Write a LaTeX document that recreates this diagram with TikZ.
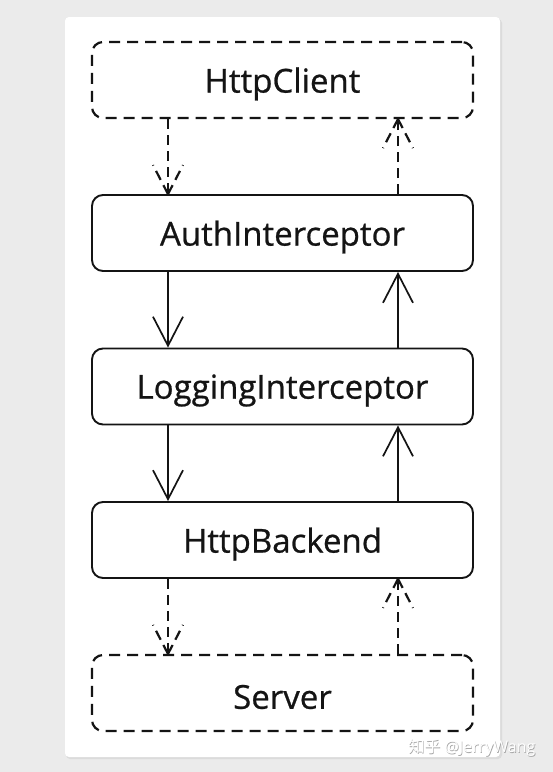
\documentclass[tikz,border=0pt]{standalone}
\usepackage{fontspec}
\setmainfont{Open Sans}
\newfontfamily\boxfont{Open Sans}[FakeBold=0.7]
\newfontfamily\cjkfont{Noto Sans CJK SC}
\usetikzlibrary{arrows.meta,calc}
\definecolor{bggray}{HTML}{EBEBEB}
\definecolor{ink}{HTML}{141414}
\newcommand{\lowtext}[1]{\raisebox{-4pt}[\height][\depth]{#1}}
\tikzset{
  boxbase/.style={draw=ink, line width=1.9pt, rounded corners=11pt,
    minimum width=381pt, minimum height=76pt, inner sep=0pt,
    font=\boxfont\fontsize{33}{38}\selectfont, text=ink},
  solidbox/.style={boxbase},
  dashbox/.style={boxbase, line width=2.2pt, dash pattern=on 11pt off 7pt},
  sline/.style={draw=ink, line width=1.7pt},
  dline/.style={draw=ink, line width=2.2pt, dash pattern=on 10pt off 6pt},
  sarrow/.style={sline, -{Straight Barb[length=29pt,width=30pt,line width=1.7pt]}},
}
\begin{document}
\begin{tikzpicture}[x=1pt,y=-1pt]
\useasboundingbox (0,0) rectangle (553,772);
\fill[bggray] (0,0) rectangle (553,772);
\fill[black!14, rounded corners=4pt] (66,19) rectangle (502,759);
\fill[white, rounded corners=4pt] (65,17) rectangle (500,757);

\node[dashbox]  (client)  at (282.5,80)   {\lowtext{HttpClient}};
\node[solidbox] (auth)    at (282.5,233)  {\lowtext{AuthInterceptor}};
\node[solidbox] (logging) at (282.5,386.5){\lowtext{LoggingInterceptor}};
\node[solidbox] (backend) at (282.5,540)  {\lowtext{HttpBackend}};
\node[dashbox]  (server)  at (282.5,693)  {\lowtext{Server}};

% solid arrows
\draw[sarrow] ($(auth.south)+(-114.5,0)$) -- ($(logging.north)+(-114.5,0)$);
\draw[sarrow] ($(logging.north)+(115.5,0)$) -- ($(auth.south)+(115.5,0)$);
\draw[sarrow] ($(logging.south)+(-114.5,0)$) -- ($(backend.north)+(-114.5,0)$);
\draw[sarrow] ($(backend.north)+(115.5,0)$) -- ($(logging.south)+(115.5,0)$);

% dashed arrows with dashed heads
\coordinate (t1) at ($(auth.north)+(-114.5,0)$);
\draw[dline] ($(client.south)+(-114.5,0)$) -- (t1);
\draw[dline] (t1) -- ++(-15,-29);
\draw[dline] (t1) -- ++(15,-29);

\coordinate (t2) at ($(client.south)+(115.5,0)$);
\draw[dline] ($(auth.north)+(115.5,0)$) -- (t2);
\draw[dline] (t2) -- ++(-15,29);
\draw[dline] (t2) -- ++(15,29);

\coordinate (t3) at ($(server.north)+(-114.5,0)$);
\draw[dline] ($(backend.south)+(-114.5,0)$) -- (t3);
\draw[dline] (t3) -- ++(-15,-29);
\draw[dline] (t3) -- ++(15,-29);

\coordinate (t4) at ($(backend.south)+(115.5,0)$);
\draw[dline] ($(server.north)+(115.5,0)$) -- (t4);
\draw[dline] (t4) -- ++(-15,29);
\draw[dline] (t4) -- ++(15,29);

% watermark
\node[text=black!35, font=\fontsize{16}{18}\selectfont, anchor=east] (wm0) at (539.6,748.6) {{\cjkfont 知乎} @JerryWang};
\node[text=white, font=\fontsize{16}{18}\selectfont, anchor=east] (wm) at (539,748) {{\cjkfont 知乎} @JerryWang};
\end{tikzpicture}
\end{document}
